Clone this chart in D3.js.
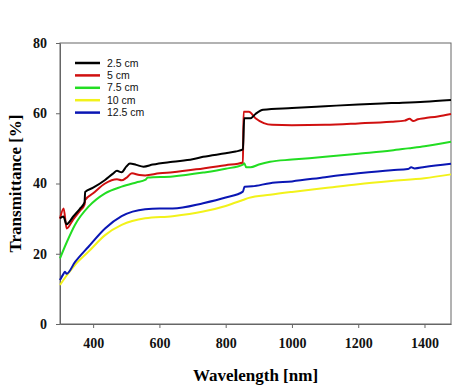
<!DOCTYPE html>
<html>
<head>
<meta charset="utf-8">
<script src="https://cdn.jsdelivr.net/npm/d3@7"></script>
<style>
  body { margin: 0; background: #fff; }
  .axis text { font-family: "Liberation Serif", "Times New Roman", serif; font-weight: bold; font-size: 14px; fill: #111; }
  .axis path, .axis line { stroke: #666; }
</style>
</head>
<body>
<svg class="svg_chart" width="474" height="387"></svg>
<script>
// series labels and colours
var labels = ["2.5 cm", "5 cm", "7.5 cm", "10 cm", "12.5 cm"];
var colors = ["#000000", "#d01010", "#22dd22", "#f2f21a", "#0a16b4"];

// [wavelength nm, transmittance %]
var s2_5 = [[300,30.1],[310,30.6],[320,28.4],[340,30.6],[360,32.8],[374,34.6],[376,37.6],[400,38.8],[436,41.0],[460,42.8],[472,43.6],[486,43.2],[500,44.8],[511,45.7],[530,45.3],[552,44.8],[580,45.4],[640,46.2],[700,46.9],[732,47.6],[800,48.6],[830,49.1],[852,49.7],[856,58.6],[875,58.6],[890,59.8],[913,61.0],[1000,61.5],[1100,62.0],[1200,62.5],[1300,62.9],[1400,63.3],[1480,63.8]];
var s5 = [[300,30.0],[311,32.9],[320,27.2],[340,29.8],[360,32.2],[374,34.0],[376,35.3],[400,37.2],[436,40.0],[472,41.2],[486,40.9],[500,41.6],[517,42.9],[540,42.4],[557,42.3],[600,42.9],[640,43.2],[732,44.3],[800,45.2],[852,46.0],[854,60.4],[870,60.4],[890,58.6],[915,57.2],[940,56.7],[1000,56.6],[1100,56.7],[1200,57.1],[1300,57.6],[1340,57.9],[1355,58.4],[1366,57.8],[1380,58.3],[1400,58.6],[1440,59.1],[1480,59.8]];
var s7_5 = [[300,18.7],[320,23.2],[345,28.2],[386,33.4],[436,37.2],[486,39.1],[530,40.3],[557,41.0],[565,41.7],[640,42.0],[732,43.1],[800,44.2],[852,45.4],[856,45.8],[862,44.6],[875,44.6],[900,45.4],[934,46.2],[1000,46.8],[1100,47.6],[1200,48.5],[1300,49.4],[1350,50.0],[1400,50.6],[1480,51.9]];
var s10 = [[300,11.1],[320,13.8],[345,16.8],[386,20.6],[436,25.3],[486,28.2],[557,30.1],[640,30.7],[732,32.0],[800,33.6],[852,35.3],[870,35.9],[934,36.8],[1000,37.6],[1100,38.7],[1200,39.8],[1300,40.7],[1400,41.5],[1480,42.6]];
var s12_5 = [[300,12.5],[310,14.2],[315,14.9],[320,14.3],[345,17.6],[386,22.0],[436,27.2],[486,30.7],[557,32.7],[600,32.9],[640,32.9],[732,34.4],[800,36.0],[852,37.7],[857,39.1],[880,39.2],[934,40.1],[1000,40.6],[1100,41.8],[1200,42.9],[1300,43.8],[1350,44.1],[1360,44.6],[1370,44.3],[1400,44.7],[1480,45.6]];
var series = [s2_5, s5, s7_5, s10, s12_5];

var xTicks = [400, 600, 800, 1000, 1200, 1400];
var yTicks = [0, 20, 40, 60, 80];

var svg = d3.select(".svg_chart"),
    margin = {top: 43, right: 23, bottom: 63, left: 60},
    width = +svg.attr("width") - margin.left - margin.right,
    height = +svg.attr("height") - margin.top - margin.bottom,
    g = svg.append("g").attr("transform", "translate(" + margin.left + "," + margin.top + ")");

var x = d3.scaleLinear().domain([300, 1480]).range([0, width]),
    y = d3.scaleLinear().domain([0, 80]).range([height, 0]);

// frame (top and right)
g.append("rect")
    .attr("width", width).attr("height", height)
    .attr("fill", "none").attr("stroke", "#666");

g.append("g")
    .attr("class", "axis")
    .attr("transform", "translate(0," + height + ")")
    .call(d3.axisBottom(x).tickValues(xTicks).tickFormat(d3.format("d")).tickSize(4).tickPadding(10).tickSizeOuter(0));

g.append("g")
    .attr("class", "axis")
    .call(d3.axisLeft(y).tickValues(yTicks).tickSize(4).tickPadding(9).tickSizeOuter(0));

var line = d3.line()
    .curve(d3.curveMonotoneX)
    .x(function(d) { return x(d[0]); })
    .y(function(d) { return y(d[1]); });

// draw lowest first so black ends on top
[3, 4, 2, 1, 0].forEach(function(i) {
    g.append("path")
        .datum(series[i])
        .attr("fill", "none")
        .attr("stroke", colors[i])
        .attr("stroke-width", 2)
        .attr("stroke-linejoin", "round")
        .attr("d", line);
});

// legend
var legend = g.append("g").attr("transform", "translate(15,20)");
labels.forEach(function(lab, i) {
    var row = legend.append("g").attr("transform", "translate(0," + (i * 12.4) + ")");
    row.append("line").attr("x1", 0).attr("x2", 25).attr("y1", 0).attr("y2", 0)
        .attr("stroke", colors[i]).attr("stroke-width", 2.5);
    row.append("text").attr("x", 32).attr("y", 3.6)
        .style("font-family", "Liberation Sans, Arial, sans-serif")
        .style("font-size", "10.5px").attr("fill", "#111")
        .text(lab);
});

// axis titles
svg.append("text")
    .attr("x", margin.left + width / 2).attr("y", 381)
    .attr("text-anchor", "middle")
    .style("font-family", "Liberation Serif, Times New Roman, serif")
    .style("font-weight", "bold").style("font-size", "17px")
    .text("Wavelength [nm]");

svg.append("text")
    .attr("transform", "translate(21," + (margin.top + height / 2) + ") rotate(-90)")
    .attr("text-anchor", "middle")
    .style("font-family", "Liberation Serif, Times New Roman, serif")
    .style("font-weight", "bold").style("font-size", "17px")
    .text("Transmittance [%]");
</script>
</body>
</html>
